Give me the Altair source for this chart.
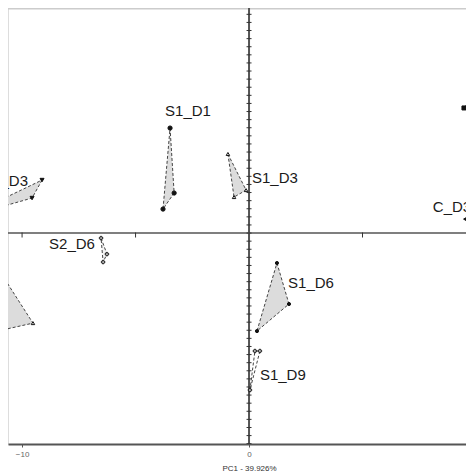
import altair as alt
import pandas as pd

# ---- data (PC1, PC2 units) ----
hull_groups = ["S1_D1", "S1_D3", "S2_D3", "S2_D6", "G_left", "S1_D6", "S1_D9", "C_D3", "G_topright"]
hull_x = [
    [-3.48, -3.30, -3.79],
    [-0.93, -0.13, -0.66],
    [-9.12, -9.56, -12.51],
    [-6.52, -6.26, -6.43],
    [-10.88, -9.52, -11.25],
    [1.23, 1.76, 0.35],
    [0.26, 0.48, 0.04],
    [9.52, 9.78, 10.18],
    [9.47, 10.09, 10.26],
]
hull_y = [
    [6.48, 2.47, 1.48],
    [4.88, 2.65, 2.22],
    [3.27, 2.16, 0.99],
    [-0.31, -1.30, -1.79],
    [-2.59, -5.56, -6.10],
    [-1.85, -4.38, -6.05],
    [-7.28, -7.28, -9.69],
    [0.86, 0.93, 0.74],
    [7.72, 9.07, 8.46],
]
hull_fill = ["#dcdcdc", "#dcdcdc", "#dcdcdc", "#f2f2f2", "#dcdcdc", "#dcdcdc", "#ffffff", "#dcdcdc", "#dcdcdc"]
marker_shapes = ["circle", "triangle-up", "triangle-down", "cross", "triangle-up",
                 "circle", "cross", "triangle-left", "square"]
marker_sizes = [18, 12, 16, 12, 12, 10, 12, 12, 16]
marker_filled = [True, False, True, False, False, True, False, True, True]

label_text = ["S1_D1", "S1_D3", "S2_D3", "S2_D6", "S1_D6", "S1_D9", "C_D3"]
label_x = [-3.70, 0.13, -11.76, -8.81, 1.72, 0.48, 8.10]
label_y = [7.53, 3.40, 3.21, -0.68, -3.09, -8.77, 1.60]

x_ticks_bottom = [-10, 0]
x_ticks_zero = [-10, -5, 5]
pc2_ruler = [i * 0.5 for i in range(-26, 28)]

x_title = "PC1 - 39.926%"
x_domain = [-10.62, 9.56]
y_domain = [-13.02, 13.89]

# ---- tables ----
rows = []
for g, xs_, ys_, fc in zip(hull_groups, hull_x, hull_y, hull_fill):
    n = len(xs_)
    for i in range(n + 1):
        rows.append({"group": g, "x": xs_[i % n], "y": ys_[i % n], "order": i, "fc": fc})
hull_df = pd.DataFrame(rows)

pt_rows = []
for g, xs_, ys_, f, sz in zip(hull_groups, hull_x, hull_y, marker_filled, marker_sizes):
    for xv, yv in zip(xs_, ys_):
        pt_rows.append({"group": g, "x": xv, "y": yv, "filled": f, "sz": sz})
pt_df = pd.DataFrame(pt_rows)
lab_df = pd.DataFrame({"label": label_text, "x": label_x, "y": label_y})

xs = alt.Scale(domain=x_domain, nice=False, zero=False)
ys = alt.Scale(domain=y_domain, nice=False, zero=False)

X = alt.X("x:Q", scale=xs, title=x_title,
          axis=alt.Axis(values=x_ticks_bottom, grid=False, domainColor="#555555",
                        domainWidth=2, tickColor="#555555", tickSize=3,
                        labelFontSize=8, labelColor="#666666", labelFont="Liberation Sans",
                        labelPadding=3, titleFontSize=8, titleFontWeight="normal",
                        titleColor="#333333", titleFont="Liberation Sans",
                        titleBaseline="bottom", titleY=28, titleX=241,
                        titleAnchor="start", titleAlign="center"))
Y = alt.Y("y:Q", scale=ys, axis=None)

hulls = alt.Chart(hull_df).mark_line(
    stroke="#444444", strokeWidth=1, strokeDash=[3, 2], clip=True
).encode(x=X, y=Y, detail="group:N", order="order:Q",
         fill=alt.Fill("fc:N", scale=None))

pts = alt.Chart(pt_df).mark_point(clip=True, strokeWidth=1, opacity=1).encode(
    x=alt.X("x:Q", scale=xs), y=alt.Y("y:Q", scale=ys),
    shape=alt.Shape("group:N", scale=alt.Scale(domain=hull_groups, range=marker_shapes), legend=None),
    size=alt.Size("sz:Q", scale=None),
    fill=alt.condition("datum.filled", alt.value("#111111"), alt.value("white")),
    stroke=alt.value("#111111"),
)

labels = alt.Chart(lab_df).mark_text(
    align="left", baseline="middle", fontSize=15, font="Liberation Sans", color="#1a1a1a", clip=True
).encode(x=alt.X("x:Q", scale=xs), y=alt.Y("y:Q", scale=ys), text="label:N")

vline = alt.Chart(pd.DataFrame({"v": [0]})).mark_rule(color="#555555", strokeWidth=2).encode(
    x=alt.X("v:Q", scale=xs))
hline = alt.Chart(pd.DataFrame({"v": [0]})).mark_rule(color="#555555", strokeWidth=1.5).encode(
    y=alt.Y("v:Q", scale=ys))
topline = alt.Chart(pd.DataFrame({"v": [y_domain[1] - 0.03]})).mark_rule(color="#cccccc", strokeWidth=2).encode(
    y=alt.Y("v:Q", scale=ys))

ruler = alt.Chart(pd.DataFrame({"t": pc2_ruler, "z": [0] * len(pc2_ruler)})).mark_tick(
    orient="horizontal", size=5, thickness=1, color="#333333", opacity=1, clip=True
).encode(x=alt.X("z:Q", scale=xs), y=alt.Y("t:Q", scale=ys))

zticks = alt.Chart(pd.DataFrame({"t": x_ticks_zero, "z": [0] * len(x_ticks_zero)})).mark_tick(
    orient="vertical", size=5, thickness=1, color="#333333", opacity=1, yOffset=2
).encode(x=alt.X("t:Q", scale=xs), y=alt.Y("z:Q", scale=ys))

chart = alt.layer(hulls, topline, hline, vline, ruler, zticks, pts, labels).properties(
    width=458, height=436,
    autosize=alt.AutoSizeParams(type="none"),
    padding={"left": 0, "right": 0, "top": 0, "bottom": 30},
).configure_view(stroke=None).configure(background="white")

chart.save("out.html", embed_options={"renderer": "svg", "actions": False})
